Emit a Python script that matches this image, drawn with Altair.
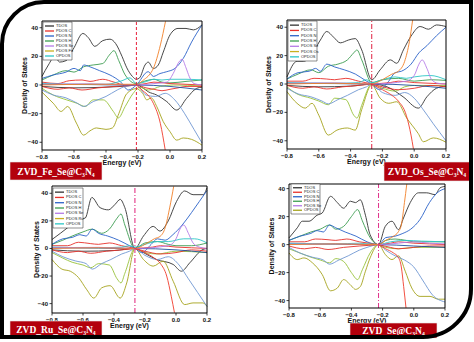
import altair as alt
import pandas as pd

W, H = 474, 342
X_TICKS = [-0.8, -0.6, -0.4, -0.2, 0.0, 0.2]
Y_TICKS = [-40, -20, 0, 20, 40]
X_TITLE = "Energy (eV)"
Y_TITLE = "Density of States"
LABELS = ["ZVD_Fe_Se@C₃N₄", "ZVD_Os_Se@C₃N₄", "ZVD_Ru_Se@C₃N₄", "ZVD_Se@C₃N₄"]
LEG_FE = ["TDOS", "PDOS C", "PDOS N", "PDOS H", "PDOS Se", "PDOS Fe", "OPDOS"]
LEG_OS = ["TDOS", "PDOS C", "PDOS N", "PDOS H", "PDOS Se", "PDOS Os", "OPDOS"]
LEG_RU = ["TDOS", "PDOS C", "PDOS N", "PDOS H", "PDOS Se", "PDOS Ru", "OPDOS"]
LEG_SE = ["TDOS", "PDOS C", "PDOS N", "PDOS H", "PDOS Se", "OPDOS"]
FERMI = [-0.21, -0.267, -0.265, -0.226]

# ---------------- panel 1 (Fe) ----------------
P1_TDOS_UP = [(-0.8, 6), (-0.76, 14), (-0.72, 20), (-0.69, 16), (-0.65, 17), (-0.6, 26), (-0.545, 36), (-0.51, 33),
              (-0.47, 27), (-0.42, 31), (-0.375, 32), (-0.34, 29), (-0.3, 20), (-0.27, 12), (-0.235, 6), (-0.21, 4),
              (-0.19, 5), (-0.156, 14), (-0.136, 16), (-0.104, 11.5), (-0.073, 14), (-0.042, 23), (0.0, 35),
              (0.05, 39.5), (0.1, 39.5), (0.146, 38.5), (0.2, 42)]
P1_TDOS_DN = [(-0.8, -1), (-0.6, -2), (-0.4, -1.5), (-0.25, -0.5), (-0.21, 0), (-0.17, -2), (-0.136, -4.7),
              (-0.083, -7), (-0.02, -11.6), (0.042, -17.5), (0.104, -9.3), (0.167, -2.3), (0.2, -1.5)]
P1_BIG_DN = [(-0.8, -5), (-0.73, -12.7), (-0.68, -18.5), (-0.64, -15), (-0.585, -26.6), (-0.54, -35), (-0.5, -32),
             (-0.46, -30), (-0.4, -31), (-0.36, -30), (-0.32, -20), (-0.27, -6), (-0.21, -2.5), (-0.17, -6),
             (-0.145, -10.4), (-0.117, -9), (-0.083, -15), (-0.042, -25.6), (0.0, -32.6), (0.042, -38.5),
             (0.083, -37), (0.135, -38), (0.2, -42)]
P1_H_UP = [(-0.8, 3.5), (-0.73, 7), (-0.65, 10), (-0.6, 9), (-0.54, 12.7), (-0.48, 14), (-0.42, 15), (-0.38, 20.8),
           (-0.35, 24), (-0.32, 17), (-0.28, 7), (-0.21, 1), (-0.15, 3), (-0.1, 4), (-0.05, 2), (0.0, 1.5),
           (0.1, 2.5), (0.2, 3.5)]
P1_H_DN = [(-0.8, -2.3), (-0.73, -7), (-0.646, -10.4), (-0.583, -12.7), (-0.53, -15), (-0.48, -10.4),
           (-0.417, -10.4), (-0.354, -18.5), (-0.323, -23), (-0.28, -15), (-0.23, -5.8), (-0.19, -1.6),
           (-0.135, -3.5), (-0.06, -1), (0.02, 0), (0.2, -0.7)]
P1_N_UP = [(-0.8, 4.6), (-0.73, 7), (-0.65, 9), (-0.6, 11.6), (-0.56, 10), (-0.54, 14), (-0.5, 12.7), (-0.44, 10),
           (-0.375, 7), (-0.31, 2.3), (-0.26, -3.5), (-0.21, 0), (-0.136, 9.3), (-0.104, 6), (-0.0625, 8),
           (-0.02, 9.3), (0.031, 11.6), (0.083, 18.6), (0.135, 30), (0.2, 42)]
P1_N_DN = [(-0.8, -3.5), (-0.73, -7), (-0.65, -9), (-0.58, -12.7), (-0.54, -15), (-0.48, -11.6), (-0.4, -8),
           (-0.33, -3.5), (-0.28, -1), (-0.21, 0), (-0.15, -7), (-0.09, -8), (-0.03, -5.8), (0.03, -10.4),
           (0.09, -19.7), (0.15, -31), (0.2, -40.5)]
P1_M_UP = [(-0.8, 0), (-0.5, 0.5), (-0.21, 0.5), (-0.16, 4), (-0.13, 7), (-0.104, 11.6), (-0.06, 28), (-0.028, 44.5)]
P1_C_STEEP = [(-0.21, 0), (-0.17, -4), (-0.13, -8), (-0.104, -12.8), (-0.06, -27), (-0.03, -45.3)]
P1_C_UP = [(-0.8, 2), (-0.7, 1), (-0.63, 3), (-0.55, 3.5), (-0.5, 2.5), (-0.42, 4), (-0.35, 2), (-0.28, 0),
           (-0.21, 0), (-0.15, -2), (-0.1, -3), (-0.05, -4), (0.0, -3), (0.05, -2), (0.1, -1), (0.2, -1)]
P1_C_DN = [(-0.8, -1), (-0.7, -3), (-0.63, -2), (-0.55, -3.5), (-0.45, -2), (-0.35, -1), (-0.21, 0), (-0.15, 1),
           (-0.1, 2), (0.0, 1), (0.1, 0.5), (0.2, 0)]
P1_SE_UP = [(-0.8, 0.5), (-0.5, 0.8), (-0.21, 0), (-0.1, 1), (-0.02, 2), (0.02, 8), (0.05, 15), (0.075, 18),
            (0.1, 12), (0.12, 6), (0.15, 1), (0.2, 0)]
P1_OP = [(-0.8, 1), (-0.6, 0.5), (-0.4, 0.5), (-0.3, 3), (-0.25, 5), (-0.21, 1), (-0.16, 2), (-0.1, 4),
         (-0.05, 3.5), (0.0, 4), (0.1, 4), (0.2, 3.5)]
P1_ZERO = [(-0.8, 0.5), (-0.5, 0.3), (-0.3, 0), (-0.21, 0), (0.0, -1), (0.2, -3.5)]

# ---------------- panel 2 (Os) ----------------
P2_TDOS_UP = [(-0.8, 5), (-0.737, 16), (-0.695, 16), (-0.654, 19), (-0.59, 31), (-0.55, 37), (-0.507, 33),
              (-0.465, 29), (-0.413, 31), (-0.371, 32), (-0.33, 24), (-0.267, 3), (-0.214, 10), (-0.15, 17),
              (-0.11, 14.6), (-0.068, 24), (-0.015, 34.6), (0.037, 40.5), (0.09, 38.6), (0.14, 41.6), (0.2, 40.5)]
P2_TDOS_DN = [(-0.8, -1), (-0.6, -2), (-0.4, -1.5), (-0.267, 0), (-0.17, -2), (-0.07, -9), (0.026, -17),
              (0.08, -9), (0.14, -3), (0.2, -1.5)]
P2_BIG_DN = [(-0.8, -5.4), (-0.737, -13.6), (-0.685, -17), (-0.643, -13.6), (-0.6, -22), (-0.54, -36),
             (-0.486, -32.5), (-0.42, -31), (-0.371, -32.5), (-0.33, -18), (-0.267, -0.7), (-0.214, -10),
             (-0.16, -13.6), (-0.11, -12.5), (-0.047, -24), (0.026, -35), (0.058, -40.7), (0.12, -38), (0.2, -41)]
P2_H_UP = [(-0.8, 3.5), (-0.73, 7), (-0.65, 10), (-0.6, 8), (-0.54, 12.5), (-0.48, 14), (-0.42, 17), (-0.38, 22),
           (-0.36, 24), (-0.33, 17), (-0.267, 1), (-0.2, 3), (-0.1, 4), (0.0, 2), (0.1, 3), (0.2, 2.5)]
P2_H_DN = [(-0.8, -2), (-0.737, -7), (-0.65, -10), (-0.6, -12), (-0.54, -14.6), (-0.5, -10), (-0.43, -11),
           (-0.38, -22), (-0.36, -24), (-0.33, -15), (-0.267, 0), (-0.2, -3), (-0.12, -5), (-0.06, -2), (0.0, -1),
           (0.2, -1)]
P2_N_UP = [(-0.8, 3.5), (-0.73, 8), (-0.66, 9), (-0.62, 11), (-0.59, 9), (-0.55, 14), (-0.5, 12), (-0.44, 10),
           (-0.37, 7), (-0.3, 2), (-0.267, 0), (-0.22, -4), (-0.16, 2), (-0.12, 8), (-0.08, 9), (-0.02, 14),
           (0.03, 22), (0.08, 27), (0.14, 34), (0.2, 40)]
P2_N_DN = [(-0.8, -3), (-0.73, -7), (-0.65, -9), (-0.58, -12), (-0.54, -14), (-0.48, -11), (-0.42, -8),
           (-0.35, -4), (-0.3, -2), (-0.267, 0), (-0.2, -6), (-0.12, -8), (-0.06, -6), (0.0, -10), (0.05, -17),
           (0.12, -28), (0.2, -40)]
P2_M_UP = [(-0.8, 0), (-0.5, 0.5), (-0.267, 0), (-0.2, 3), (-0.14, 7), (-0.1, 9), (-0.06, 16), (-0.03, 30),
           (-0.01, 45)]
P2_C_STEEP = [(-0.267, 0), (-0.2, -4), (-0.14, -8), (-0.1, -12), (-0.05, -22), (-0.02, -36), (-0.005, -45.6)]
P2_C_UP = [(-0.8, 2), (-0.7, 2), (-0.63, 4), (-0.55, 3.5), (-0.5, 3), (-0.43, 4), (-0.35, 2), (-0.267, 0),
           (-0.2, -2), (-0.1, -4), (0.0, -3), (0.1, -1), (0.2, -2)]
P2_C_DN = [(-0.8, -1), (-0.7, -3), (-0.63, -2), (-0.55, -3.5), (-0.45, -2), (-0.35, -1), (-0.267, 0), (-0.15, 1),
           (-0.1, 2), (0.0, 1), (0.1, 0.5), (0.2, 0)]
P2_SE_UP = [(-0.8, 0.5), (-0.5, 0.8), (-0.267, 0), (-0.05, 2), (0.0, 6), (0.03, 14), (0.05, 17), (0.08, 11),
            (0.11, 3), (0.15, 0.5), (0.2, 0)]
P2_OP = [(-0.8, 1), (-0.5, 0.5), (-0.35, 1), (-0.3, 3), (-0.267, 1), (-0.2, 3), (-0.12, 5), (-0.05, 4), (0.0, 5),
         (0.1, 6), (0.2, 3)]
P2_ZERO = [(-0.8, 0.5), (-0.5, 0.3), (-0.3, 0), (-0.267, 0), (0.0, -1), (0.2, -3)]

# ---------------- panel 3 (Ru) ----------------
P3_TDOS_UP = [(-0.8, 6.5), (-0.746, 11), (-0.7, 15), (-0.64, 21), (-0.586, 22), (-0.543, 37), (-0.49, 29.6),
              (-0.436, 28), (-0.393, 32), (-0.36, 35.6), (-0.33, 29.6), (-0.265, 0), (-0.21, 9), (-0.147, 16),
              (-0.104, 12.6), (-0.05, 20), (0.003, 34), (0.056, 41.7), (0.11, 39), (0.174, 39), (0.2, 44)]
P3_TDOS_DN = [(-0.8, -1), (-0.6, -2), (-0.4, -1.5), (-0.265, 0), (-0.21, -3), (-0.126, -8), (-0.018, -11.6),
              (0.035, -16.5), (0.089, -10.4), (0.174, -0.7), (0.2, 0)]
P3_BIG_DN = [(-0.8, -8), (-0.736, -15), (-0.682, -16.5), (-0.63, -21), (-0.575, -30), (-0.53, -36),
             (-0.48, -28.6), (-0.425, -27), (-0.36, -36), (-0.318, -25), (-0.265, 0), (-0.21, -8),
             (-0.147, -12.8), (-0.083, -9.2), (-0.018, -23.8), (0.056, -40.7), (0.11, -39.5), (0.174, -39.5),
             (0.2, -42)]
P3_H_UP = [(-0.8, 3), (-0.73, 6), (-0.67, 9), (-0.6, 12), (-0.54, 14), (-0.48, 11), (-0.43, 14), (-0.38, 22),
           (-0.355, 25), (-0.33, 17), (-0.265, 0), (-0.2, 4), (-0.12, 5), (-0.05, 3), (0.0, 2), (0.1, 2), (0.2, 4)]
P3_H_DN = [(-0.8, -3), (-0.73, -7), (-0.67, -10), (-0.6, -12), (-0.55, -14), (-0.5, -11), (-0.43, -12),
           (-0.38, -22), (-0.355, -25), (-0.33, -18), (-0.265, 0), (-0.2, -3), (-0.12, -4), (0.0, -2), (0.2, -3)]
P3_N_UP = [(-0.8, 3), (-0.73, 7), (-0.67, 8), (-0.62, 10), (-0.58, 9), (-0.54, 14), (-0.5, 11), (-0.44, 9),
           (-0.37, 6), (-0.3, 2), (-0.265, 0), (-0.22, -3), (-0.16, 3), (-0.12, 7), (-0.07, 6), (-0.02, 10),
           (0.04, 17), (0.1, 26), (0.15, 34), (0.2, 42)]
P3_N_DN = [(-0.8, -2), (-0.73, -6), (-0.65, -9), (-0.58, -11), (-0.54, -15), (-0.48, -11), (-0.42, -8),
           (-0.35, -4), (-0.3, -2), (-0.265, 0), (-0.2, -5), (-0.12, -8), (-0.05, -6), (0.02, -12), (0.08, -22),
           (0.14, -32), (0.2, -42)]
P3_M_UP = [(-0.8, 0), (-0.5, 0.5), (-0.265, 0), (-0.2, 3), (-0.14, 7), (-0.1, 9), (-0.07, 15), (-0.04, 30),
           (-0.015, 45)]
P3_C_STEEP = [(-0.265, 0), (-0.2, -3), (-0.14, -7), (-0.1, -11), (-0.06, -20), (-0.03, -35), (-0.01, -46.5)]
P3_C_UP = [(-0.8, 2), (-0.7, 2), (-0.63, 4.5), (-0.55, 3.5), (-0.5, 3), (-0.43, 4), (-0.35, 2), (-0.265, 0),
           (-0.2, -2), (-0.1, -4), (0.0, -3), (0.1, -1), (0.2, -2)]
P3_C_DN = [(-0.8, -1), (-0.7, -3), (-0.63, -2), (-0.55, -3.5), (-0.45, -2), (-0.35, -1), (-0.265, 0), (-0.15, 1),
           (-0.1, 2), (0.0, 1), (0.1, 0.5), (0.2, 0)]
P3_SE_UP = [(-0.8, 0.5), (-0.5, 0.8), (-0.265, 0), (-0.05, 2), (0.0, 7), (0.03, 15), (0.05, 17), (0.08, 11),
            (0.11, 4), (0.15, 1), (0.2, 0)]
P3_OP = [(-0.8, 1), (-0.5, 0.5), (-0.35, 1), (-0.3, 2), (-0.265, 1), (-0.2, 3), (-0.12, 5), (-0.05, 5),
         (0.05, 7), (0.12, 7), (0.2, 4)]
P3_ZERO = [(-0.8, 0.5), (-0.5, 0.3), (-0.3, 0), (-0.265, 0), (0.0, -1), (0.2, -3)]

# ---------------- panel 4 (pristine) ----------------
P4_TDOS_UP = [(-0.8, 4.8), (-0.747, 12), (-0.715, 16.7), (-0.672, 16.7), (-0.62, 21), (-0.587, 22.6),
              (-0.534, 34.5), (-0.49, 30), (-0.45, 26), (-0.406, 31), (-0.374, 30), (-0.343, 32), (-0.31, 21),
              (-0.28, 7), (-0.226, 0), (-0.183, 13), (-0.14, 16.7), (-0.098, 10.7), (-0.066, 19), (-0.023, 30),
              (0.03, 37), (0.083, 37), (0.136, 35.7), (0.168, 40.5), (0.2, 41.6)]
P4_BIG_DN = [(-0.8, -6), (-0.747, -10.7), (-0.704, -9.5), (-0.65, -13), (-0.587, -21.4), (-0.534, -33),
             (-0.49, -31), (-0.45, -25), (-0.396, -30), (-0.374, -32), (-0.343, -30), (-0.31, -19), (-0.28, -9.5),
             (-0.226, 0), (-0.183, -7), (-0.14, -10.7), (-0.098, -8), (-0.055, -19), (-0.013, -31), (0.04, -37),
             (0.104, -37), (0.157, -39), (0.2, -39)]
P4_H_UP = [(-0.8, 3), (-0.73, 6), (-0.66, 9), (-0.6, 11), (-0.54, 14), (-0.5, 11), (-0.45, 13), (-0.4, 20),
           (-0.36, 25), (-0.33, 17), (-0.28, 5), (-0.226, 0), (-0.18, 3), (-0.12, 4), (-0.05, 3), (0.0, 2),
           (0.1, 2), (0.2, 2)]
P4_H_DN = [(-0.8, -3), (-0.73, -6), (-0.66, -9), (-0.6, -11), (-0.54, -13), (-0.5, -10), (-0.45, -12),
           (-0.4, -20), (-0.36, -25), (-0.33, -18), (-0.28, -6), (-0.226, 0), (-0.18, -2), (-0.1, -3), (0.0, -2),
           (0.2, -2)]
P4_N_UP = [(-0.8, 3), (-0.73, 6), (-0.66, 8), (-0.62, 10), (-0.58, 9), (-0.54, 14), (-0.5, 12), (-0.44, 9),
           (-0.37, 6), (-0.3, 2), (-0.226, 0), (-0.18, 5), (-0.12, 6), (-0.07, 8), (-0.02, 11), (0.04, 18),
           (0.1, 30), (0.15, 37), (0.2, 40)]
P4_N_DN = [(-0.8, -2), (-0.73, -6), (-0.65, -9), (-0.58, -11), (-0.54, -14), (-0.48, -11), (-0.42, -8),
           (-0.35, -4), (-0.3, -2), (-0.226, 0), (-0.18, -4), (-0.12, -8), (-0.06, -11), (0.0, -16), (0.06, -26),
           (0.12, -36), (0.2, -41)]
P4_M_UP = [(-0.8, 0), (-0.5, 0.5), (-0.226, 0), (-0.18, 3), (-0.13, 6), (-0.1, 9), (-0.08, 14), (-0.06, 30),
           (-0.045, 43.2)]
P4_C_STEEP = [(-0.226, 0), (-0.18, -3), (-0.13, -6), (-0.1, -9), (-0.08, -16), (-0.065, -30), (-0.05, -45.2)]
P4_C_UP = [(-0.8, 2), (-0.7, 2), (-0.63, 4), (-0.55, 3.5), (-0.5, 3), (-0.43, 4), (-0.35, 2), (-0.226, 0),
           (-0.15, -2), (-0.1, -3), (0.0, -2), (0.1, -1), (0.2, -1)]
P4_C_DN = [(-0.8, -1), (-0.7, -3), (-0.63, -2), (-0.55, -3.5), (-0.45, -2), (-0.35, -1), (-0.226, 0), (-0.15, 1),
           (-0.1, 2), (0.0, 1), (0.1, 0.5), (0.2, 0)]
P4_SE_UP = [(-0.8, 0.3), (-0.5, 0.5), (-0.226, 0), (-0.1, 1), (0.0, 2), (0.1, 1), (0.2, 0.5)]
P4_OP = [(-0.8, 1), (-0.5, 0.5), (-0.35, 1), (-0.226, 0), (-0.15, 2), (-0.05, 3), (0.05, 2.5), (0.2, 2)]
P4_ZERO = [(-0.8, 0.5), (-0.5, 0.3), (-0.3, 0), (-0.226, 0), (0.0, -1), (0.2, -2)]

COL = {"tdos": "#333333", "c": "#e8302a", "cst": "#f03c2c", "n": "#2a62c8", "nd": "#7097d2", "h": "#3c9c50",
       "hd": "#97c23a", "se": "#b47ae6", "m": "#f28028", "big": "#a5a31c", "op": "#2cc6c6", "z": "#1d4f9c"}
LEG_COLORS = ["#333333", "#e8302a", "#2a62c8", "#3c9c50", "#b47ae6", "#c9b020", "#2cc6c6"]
LEG_COLORS_SE = ["#333333", "#e8302a", "#2a62c8", "#3c9c50", "#b47ae6", "#a5a31c"]

FONT = "Liberation Sans"
INK = "#111111"
one = pd.DataFrame({"k": [0]})


def table(curves):
    rows = []
    for cid, key, pts in curves:
        for e, v in pts:
            rows.append({"curve": cid, "col": COL[key], "E": e, "V": v})
    return pd.DataFrame(rows)


def panel(curves, xr, yr, ydom, fermi, vcol, vdash, ytoff):
    xs = alt.Scale(domain=[-0.8, 0.2], range=xr, nice=False, zero=False)
    ys = alt.Scale(domain=ydom, range=yr, nice=False, zero=False)
    df = table(curves)
    lines = alt.Chart(df).mark_line(strokeWidth=0.9, interpolate="monotone").encode(
        x=alt.X("E:Q", scale=xs, axis=None),
        y=alt.Y("V:Q", scale=ys, axis=None),
        stroke=alt.Stroke("col:N", scale=None),
        detail="curve:N",
    )
    box = alt.Chart(one).mark_rect(fillOpacity=0, stroke="black", strokeWidth=1).encode(
        x=alt.XDatum(-0.8, axis=None), x2=alt.X2Datum(0.2),
        y=alt.YDatum(ydom[0], axis=None), y2=alt.Y2Datum(ydom[1]),
    )
    vline = alt.Chart(one).mark_rule(color=vcol, strokeDash=vdash, strokeWidth=1).encode(
        x=alt.XDatum(fermi, axis=None),
        y=alt.YDatum(ydom[0], axis=None), y2=alt.Y2Datum(ydom[1]),
    )
    xt = pd.DataFrame({"t": X_TICKS})
    yt = pd.DataFrame({"t": Y_TICKS})
    xticks = alt.Chart(xt).mark_rule(color=INK, strokeWidth=0.8, y2Offset=2.5).encode(
        x=alt.X("t:Q", axis=None), y=alt.YDatum(ydom[0], axis=None), y2=alt.Y2Datum(ydom[0]))
    xlabels = alt.Chart(xt).mark_text(font=FONT, fontSize=6, fontWeight="bold", color=INK, baseline="top",
                                      yOffset=4).encode(
        x=alt.X("t:Q", axis=None), y=alt.YDatum(ydom[0], axis=None), text=alt.Text("t:Q", format=".1f"))
    yticks = alt.Chart(yt).mark_rule(color=INK, strokeWidth=0.8, x2Offset=-2.5).encode(
        y=alt.Y("t:Q", axis=None), x=alt.XDatum(-0.8, axis=None), x2=alt.X2Datum(-0.8))
    ylabels = alt.Chart(yt).mark_text(font=FONT, fontSize=6, fontWeight="bold", color=INK, align="right",
                                      baseline="middle", xOffset=-4).encode(
        y=alt.Y("t:Q", axis=None), x=alt.XDatum(-0.8, axis=None), text=alt.Text("t:Q", format="d"))
    xtitle = alt.Chart(one).mark_text(font=FONT, fontSize=7, fontWeight="bold", color=INK, baseline="middle",
                                      yOffset=13).encode(
        x=alt.XDatum(-0.3, axis=None), y=alt.YDatum(ydom[0], axis=None), text=alt.value(X_TITLE))
    ytitle = alt.Chart(one).mark_text(font=FONT, fontSize=7, fontWeight="bold", color=INK, baseline="middle",
                                      angle=270, xOffset=ytoff).encode(
        x=alt.XDatum(-0.8, axis=None), y=alt.YDatum((ydom[0] + ydom[1]) / 2, axis=None),
        text=alt.value(Y_TITLE))
    return alt.layer(xtitle, ytitle, lines, vline, box, xticks, xlabels, yticks, ylabels)


def legend(names, colors, x0, x1, y0, y1):
    n = len(names)
    pitch = (y1 - y0 - 3) / n
    sc = alt.Scale(type="point", domain=names, range=[y0 + 1.5 + pitch / 2, y1 - 1.5 - pitch / 2], padding=0)
    df = pd.DataFrame({"name": names, "col": colors})
    frame_ = alt.Chart(one).mark_rect(fill="white", stroke="#444", strokeWidth=0.6).encode(
        x=alt.value(x0), x2=alt.value(x1), y=alt.value(y0), y2=alt.value(y1))
    sym = alt.Chart(df).mark_rule(strokeWidth=1.3).encode(
        x=alt.value(x0 + 2), x2=alt.value(x0 + 11), y=alt.Y("name:N", scale=sc, axis=None),
        color=alt.Color("col:N", scale=None))
    txt = alt.Chart(df).mark_text(font=FONT, fontSize=4, color="#222", align="left", baseline="middle").encode(
        x=alt.value(x0 + 13), y=alt.Y("name:N", scale=sc, axis=None), text="name:N")
    return alt.layer(frame_, sym, txt)


def curves_of(tdos_up, tdos_dn, big, h_up, h_dn, n_up, n_dn, m_up, c_st, c_up, c_dn, se_up, op, zero):
    out = [("tdos_up", "tdos", tdos_up)]
    if tdos_dn is not None:
        out.append(("tdos_dn", "tdos", tdos_dn))
    out += [("big", "big", big), ("h_up", "h", h_up), ("h_dn", "hd", h_dn), ("n_up", "n", n_up),
            ("n_dn", "nd", n_dn), ("c_up", "c", c_up), ("c_dn", "c", c_dn), ("zero", "z", zero), ("op", "op", op),
            ("se_up", "se", se_up), ("m_up", "m", m_up), ("c_st", "cst", c_st)]
    return out


DASH = [3, 2]
DASHDOT = [5, 2, 1, 2]

p1 = panel(curves_of(P1_TDOS_UP, P1_TDOS_DN, P1_BIG_DN, P1_H_UP, P1_H_DN, P1_N_UP, P1_N_DN, P1_M_UP, P1_C_STEEP,
                     P1_C_UP, P1_C_DN, P1_SE_UP, P1_OP, P1_ZERO),
           [42, 202], [150, 21], [-45.4, 44.7], FERMI[0], "#e8203c", DASH, -17)
p2 = panel(curves_of(P2_TDOS_UP, P2_TDOS_DN, P2_BIG_DN, P2_H_UP, P2_H_DN, P2_N_UP, P2_N_DN, P2_M_UP, P2_C_STEEP,
                     P2_C_UP, P2_C_DN, P2_SE_UP, P2_OP, P2_ZERO),
           [287, 446], [149, 20], [-45.8, 45.1], FERMI[1], "#e02040", DASHDOT, -18)
p3 = panel(curves_of(P3_TDOS_UP, P3_TDOS_DN, P3_BIG_DN, P3_H_UP, P3_H_DN, P3_N_UP, P3_N_DN, P3_M_UP, P3_C_STEEP,
                     P3_C_UP, P3_C_DN, P3_SE_UP, P3_OP, P3_ZERO),
           [52, 207], [313, 186], [-46.8, 45.3], FERMI[2], "#e0207a", DASHDOT, -15)
p4 = panel(curves_of(P4_TDOS_UP, None, P4_BIG_DN, P4_H_UP, P4_H_DN, P4_N_UP, P4_N_DN, P4_M_UP, P4_C_STEEP,
                     P4_C_UP, P4_C_DN, P4_SE_UP, P4_OP, P4_ZERO),
           [289, 445], [308, 184], [-45.3, 43.3], FERMI[3], "#e0308c", DASHDOT, -17)

l1 = legend(LEG_FE, LEG_COLORS, 43, 72, 22, 60)
l2 = legend(LEG_OS, LEG_COLORS, 288, 317, 21, 61)
l3 = legend(LEG_RU, LEG_COLORS, 53, 83, 188, 228)
l4 = legend(LEG_SE, LEG_COLORS_SE, 291, 320, 184, 214)


def label_box(x1, x2, y1, y2, text):
    r = alt.Chart(one).mark_rect(fill="#b3000c", stroke="#e8e8e8", strokeWidth=0.6).encode(
        x=alt.value(x1), x2=alt.value(x2), y=alt.value(y1), y2=alt.value(y2))
    t = alt.Chart(one).mark_text(font="Liberation Serif", fontWeight="bold", fontSize=9.5, color="white",
                                 align="center", baseline="middle").encode(
        x=alt.value((x1 + x2) / 2), y=alt.value((y1 + y2) / 2 + 0.5), text=alt.value(text))
    return [r, t]


frame = alt.Chart(one).mark_rect(fillOpacity=0, stroke="black", strokeWidth=4, cornerRadiusTopLeft=42,
                                 cornerRadiusBottomRight=48).encode(
    x=alt.value(2), x2=alt.value(471), y=alt.value(2), y2=alt.value(337))

deco = []
deco += label_box(10, 102, 162, 180, LABELS[0])
deco += label_box(384, 470, 162, 181, LABELS[1])
deco += label_box(10, 102, 321, 338, LABELS[2])
deco += label_box(350, 437, 323, 338, LABELS[3])

chart = alt.layer(p1, p2, p3, p4, l1, l2, l3, l4, *deco, frame).resolve_scale(
    x="independent", y="independent", color="independent"
).properties(
    width=W, height=H, padding=0, autosize=alt.AutoSizeParams(type="none"), background="white"
).configure_view(stroke=None)

chart.save("out.html", embed_options={"renderer": "svg", "actions": False})
